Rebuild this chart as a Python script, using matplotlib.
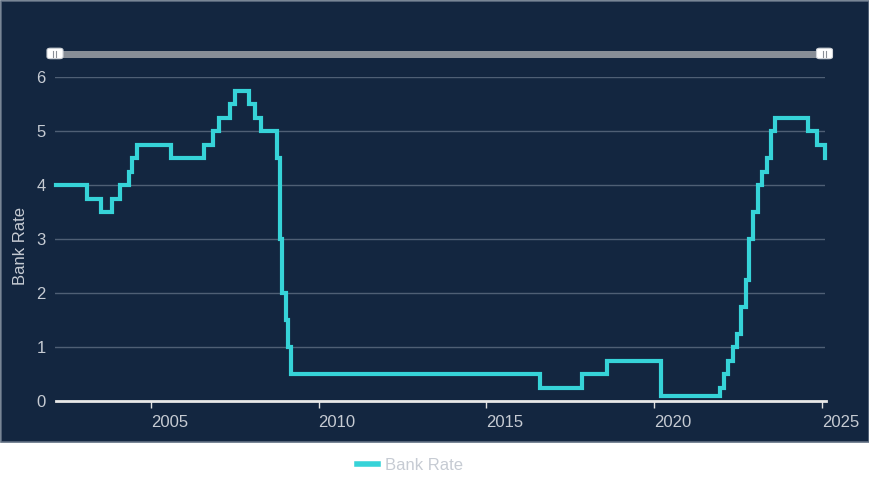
import numpy as np
import matplotlib.pyplot as plt
import matplotlib.dates as mdates
from matplotlib.patches import Rectangle, FancyBboxPatch
from matplotlib.lines import Line2D

plt.rcParams['font.family'] = ['Liberation Sans', 'DejaVu Sans']

# Bank Rate change dates and new rate (%)
change_dates = [
    '2002-03-01', '2003-02-06', '2003-07-10', '2003-11-06', '2004-02-05',
    '2004-05-06', '2004-06-10', '2004-08-05', '2005-08-04', '2006-08-03',
    '2006-11-09', '2007-01-11', '2007-05-10', '2007-07-05', '2007-12-06',
    '2008-02-07', '2008-04-10', '2008-10-08', '2008-11-06', '2008-12-04',
    '2009-01-08', '2009-02-05', '2009-03-05', '2016-08-04', '2017-11-02',
    '2018-08-02', '2020-03-11', '2020-03-19', '2021-12-16', '2022-02-03',
    '2022-03-17', '2022-05-05', '2022-06-16', '2022-08-04', '2022-09-22',
    '2022-11-03', '2022-12-15', '2023-02-02', '2023-03-23', '2023-05-11',
    '2023-06-22', '2023-08-03', '2024-08-01', '2024-11-07', '2025-02-06',
]
bank_rate = [
    4.00, 3.75, 3.50, 3.75, 4.00,
    4.25, 4.50, 4.75, 4.50, 4.75,
    5.00, 5.25, 5.50, 5.75, 5.50,
    5.25, 5.00, 4.50, 3.00, 2.00,
    1.50, 1.00, 0.50, 0.25, 0.50,
    0.75, 0.25, 0.10, 0.25, 0.50,
    0.75, 1.00, 1.25, 1.75, 2.25,
    3.00, 3.50, 4.00, 4.25, 4.50,
    5.00, 5.25, 5.00, 4.75, 4.50,
]
y_ticks = [0, 1, 2, 3, 4, 5, 6]

navy = '#132640'
line_col = '#36d3d8'
text_col = '#c6cbd3'
W, H = 870, 500

fig = plt.figure(figsize=(8.7, 5), dpi=100, facecolor='white')

# dark panel behind the chart
fig.patches.append(Rectangle((0.5 / W, 1 - 442 / H), 1 - 1.5 / W, 442 / H - 0.5 / H,
                             transform=fig.transFigure, facecolor=navy,
                             edgecolor='#5f6e82', lw=1.2, zorder=-5))

ax = fig.add_axes([55.5 / W, 1 - 401 / H, 770 / W, 324 / H])
ax.set_zorder(1)
ax.set_facecolor('none')

x = np.array(change_dates, dtype='datetime64[D]')
ax.plot(x, bank_rate, drawstyle='steps-post', color=line_col, lw=3,
        solid_joinstyle='miter', zorder=3, clip_on=False)

ax.set_xlim(np.datetime64('2002-03-01'), np.datetime64('2025-02-08'))
ax.set_ylim(0, 6)
ax.set_yticks(y_ticks)
ax.xaxis.set_major_locator(mdates.YearLocator(5))
ax.xaxis.set_major_formatter(mdates.DateFormatter('%Y'))

ax.grid(axis='y', color='#4f5f75', lw=1)
ax.set_axisbelow(True)
for s in ['top', 'right', 'left']:
    ax.spines[s].set_visible(False)
ax.spines['bottom'].set_color('#e8e8e8')
ax.spines['bottom'].set_linewidth(2)
ax.spines['bottom'].set_zorder(4)

ax.tick_params(axis='x', colors='#e0e0e0', length=5, width=1, pad=5,
               labelcolor=text_col, labelsize=12)
ax.tick_params(axis='y', length=0, pad=7, labelcolor=text_col, labelsize=12)
for lab in ax.get_xticklabels():
    lab.set_horizontalalignment('left')

fig.text(21 / W, 1 - 246 / H, 'Bank Rate', rotation=90, color=text_col,
         fontsize=12, ha='center', va='center')

# navigator bar with handles
fig.patches.append(Rectangle((56 / W, 1 - 57.5 / H), 768 / W, 6 / H,
                             transform=fig.transFigure, facecolor='#888e97',
                             edgecolor='none', zorder=2))
for hx in [47, 816.5]:
    fig.patches.append(FancyBboxPatch((hx / W, 1 - 58.7 / H), 16 / W, 10.5 / H,
                                      boxstyle='round,pad=0,rounding_size=0.004',
                                      transform=fig.transFigure, facecolor='white',
                                      edgecolor='#cfd3d8', lw=0.8, zorder=3))
    for dx in [6.5, 9.5]:
        fig.lines.append(Line2D([(hx + dx) / W] * 2, [1 - 57 / H, 1 - 50.5 / H],
                                transform=fig.transFigure, color='#8a8f96',
                                lw=0.8, zorder=4))

handle = Line2D([], [], color=line_col, lw=4)
fig.legend([handle], ['Bank Rate'], loc='center', bbox_to_anchor=(410 / W, 1 - 465 / H),
           frameon=False, fontsize=12, labelcolor=text_col, handlelength=1.25,
           handletextpad=0.4)

fig.savefig('out.png', dpi=100, facecolor='white')
